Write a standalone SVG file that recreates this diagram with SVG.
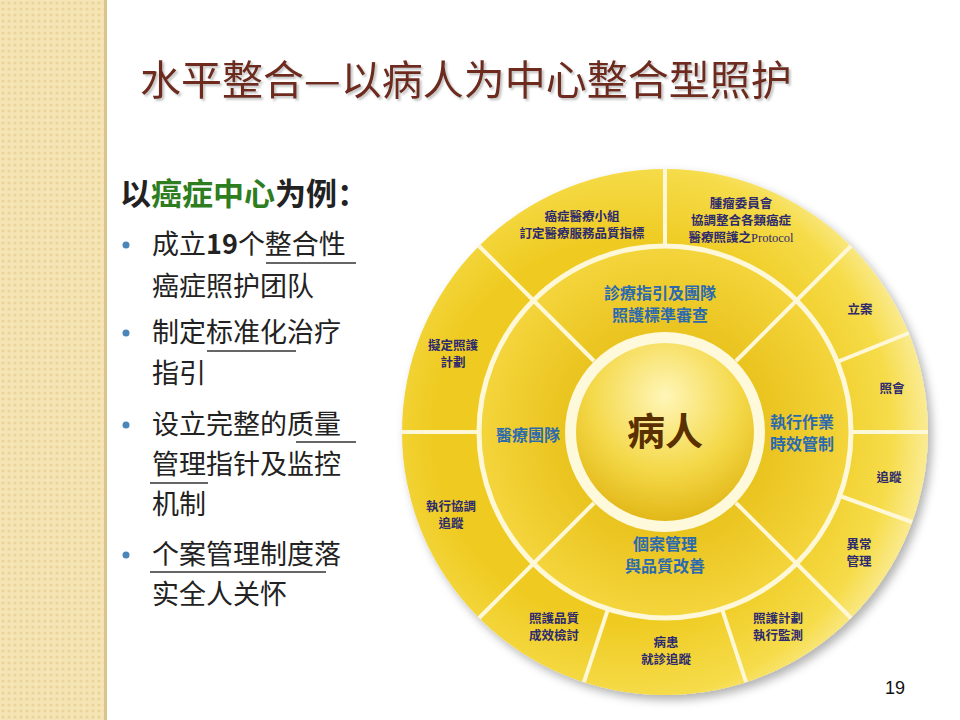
<svg xmlns="http://www.w3.org/2000/svg" width="960" height="720" viewBox="0 0 960 720">
<defs>
<pattern id="dots" width="6" height="6" patternUnits="userSpaceOnUse"><rect width="6" height="6" fill="#F5E4B4"/><circle cx="3" cy="3" r="1.6" fill="#EBD49A"/></pattern>
<radialGradient id="outer" cx="0.42" cy="0.5" r="0.6"><stop offset="0.6" stop-color="#EFCB22"/><stop offset="0.85" stop-color="#F6DC4A"/><stop offset="1" stop-color="#FCF0A8"/></radialGradient>
<radialGradient id="mid" cx="0.5" cy="0.5" r="0.5"><stop offset="0.5" stop-color="#E9C21C"/><stop offset="1" stop-color="#F4D53C"/></radialGradient>
<radialGradient id="core" cx="0.5" cy="0.3" r="0.7"><stop offset="0" stop-color="#FFF6B8"/><stop offset="0.6" stop-color="#F4D848"/><stop offset="1" stop-color="#E2B818"/></radialGradient>
<filter id="sh" x="-10%" y="-10%" width="130%" height="130%"><feDropShadow dx="4" dy="5" stdDeviation="5" flood-color="#000" flood-opacity="0.3"/></filter>
<filter id="tsh"><feDropShadow dx="2" dy="2" stdDeviation="1" flood-color="#999" flood-opacity="0.6"/></filter>
</defs>
<style>
.o{font-family:"Noto Sans CJK TC","Noto Sans CJK SC",sans-serif;font-size:12.5px;font-weight:bold;fill:#2E2A6E;text-anchor:middle}
.m{font-family:"Noto Sans CJK TC","Noto Sans CJK SC",sans-serif;font-size:16px;font-weight:bold;fill:#2C6AAE;text-anchor:middle}
.b{font-family:"Noto Sans CJK SC",sans-serif;font-size:27px;fill:#222}
.ul{stroke:#333;stroke-width:1.5}
.dv{stroke:#FFF8D8;stroke-width:4}
</style>
<rect width="960" height="720" fill="#fff"/>
<rect width="106" height="720" fill="url(#dots)"/>
<rect x="104" width="3" height="720" fill="#D8C48C"/>
<text x="140" y="95" font-family="Noto Sans CJK SC,sans-serif" font-size="41" fill="#6E2A1C" filter="url(#tsh)">水平整合—以病人为中心整合型照护</text>
<g id="left-text">
<text x="120" y="205" font-family="Noto Sans CJK SC,sans-serif" font-size="31" font-weight="bold" fill="#222">以<tspan fill="#2E7D1E">癌症中心</tspan>为例：</text>
<g fill="#4A86B8"><circle cx="126" cy="245" r="3.5"/><circle cx="126" cy="333" r="3.5"/><circle cx="126" cy="425" r="3.5"/><circle cx="126" cy="555" r="3.5"/></g>
<text class="b" x="152" y="254">成立<tspan font-weight="bold">19</tspan>个整合性</text>
<text class="b" x="152" y="296">癌症照护团队</text>
<text class="b" x="152" y="342">制定标准化治疗</text>
<text class="b" x="152" y="383">指引</text>
<text class="b" x="152" y="434">设立完整的质量</text>
<text class="b" x="152" y="474">管理指针及监控</text>
<text class="b" x="152" y="514">机制</text>
<text class="b" x="152" y="564">个案管理制度落</text>
<text class="b" x="152" y="604">实全人关怀</text>
<line class="ul" x1="266" y1="263" x2="356" y2="263"/>
<line class="ul" x1="207" y1="351" x2="296" y2="351"/>
<line class="ul" x1="296" y1="442" x2="356" y2="442"/>
<line class="ul" x1="150" y1="483" x2="208" y2="483"/>
<line class="ul" x1="150" y1="572" x2="326" y2="572"/>
</g>
<g id="wheel">
<circle cx="665" cy="432" r="263" fill="url(#outer)" filter="url(#sh)"/>
<circle cx="665" cy="432" r="186" fill="url(#mid)" stroke="#FFF8D8" stroke-width="5"/>
<circle cx="665" cy="432" r="100" fill="#FFF9DC"/>
<circle cx="665" cy="432" r="89" fill="url(#core)"/>
</g>
<g id="connectors">
<line class="dv" x1="665" y1="169" x2="665" y2="246"/>
<line class="dv" x1="479" y1="246" x2="533" y2="300"/>
<line class="dv" x1="851" y1="246" x2="797" y2="300"/>
<line class="dv" x1="402" y1="432" x2="479" y2="432"/>
<line class="dv" x1="851" y1="432" x2="928" y2="432"/>
<line class="dv" x1="837" y1="362" x2="909" y2="333"/>
<line class="dv" x1="840" y1="496" x2="912" y2="522"/>
<line class="dv" x1="479" y1="618" x2="533" y2="564"/>
<line class="dv" x1="851" y1="618" x2="797" y2="564"/>
<line class="dv" x1="608" y1="609" x2="584" y2="682"/>
<line class="dv" x1="722" y1="609" x2="746" y2="682"/>
<line class="dv" x1="594" y1="361" x2="533" y2="300"/>
<line class="dv" x1="736" y1="361" x2="797" y2="300"/>
<line class="dv" x1="594" y1="503" x2="533" y2="564"/>
<line class="dv" x1="736" y1="503" x2="797" y2="564"/>
</g>
<g id="n-center"><text x="665" y="445" font-family="Noto Sans CJK TC,sans-serif" font-size="38" font-weight="bold" fill="#5A3000" text-anchor="middle">病人</text></g>
<g id="n-mid-top"><text class="m" x="660" y="299">診療指引及團隊</text><text class="m" x="660" y="321">照護標準審查</text></g>
<g id="n-mid-right"><text class="m" x="802" y="428">執行作業</text><text class="m" x="802" y="450">時效管制</text></g>
<g id="n-mid-bottom"><text class="m" x="665" y="550">個案管理</text><text class="m" x="665" y="572">與品質改善</text></g>
<g id="n-mid-left"><text class="m" x="528" y="441">醫療團隊</text></g>
<g id="n1"><text class="o" x="582" y="221">癌症醫療小組</text><text class="o" x="582" y="238">訂定醫療服務品質指標</text></g>
<g id="n2"><text class="o" x="741" y="208">腫瘤委員會</text><text class="o" x="741" y="225">協調整合各類癌症</text><text class="o" x="741" y="242">醫療照護之<tspan font-family="Liberation Serif,serif" font-weight="normal">Protocol</tspan></text></g>
<g id="n3"><text class="o" x="860" y="314">立案</text></g>
<g id="n4"><text class="o" x="892" y="393">照會</text></g>
<g id="n5"><text class="o" x="889" y="482">追蹤</text></g>
<g id="n6"><text class="o" x="859" y="549">異常</text><text class="o" x="859" y="566">管理</text></g>
<g id="n7"><text class="o" x="778" y="623">照護計劃</text><text class="o" x="778" y="640">執行監測</text></g>
<g id="n8"><text class="o" x="666" y="647">病患</text><text class="o" x="666" y="664">就診追蹤</text></g>
<g id="n9"><text class="o" x="554" y="623">照護品質</text><text class="o" x="554" y="640">成效檢討</text></g>
<g id="n10"><text class="o" x="451" y="511">執行協調</text><text class="o" x="451" y="528">追蹤</text></g>
<g id="n11"><text class="o" x="453" y="350">擬定照護</text><text class="o" x="453" y="367">計劃</text></g>
<text x="895" y="694" font-family="Liberation Sans,sans-serif" font-size="18" fill="#111" text-anchor="middle">19</text>
</svg>
